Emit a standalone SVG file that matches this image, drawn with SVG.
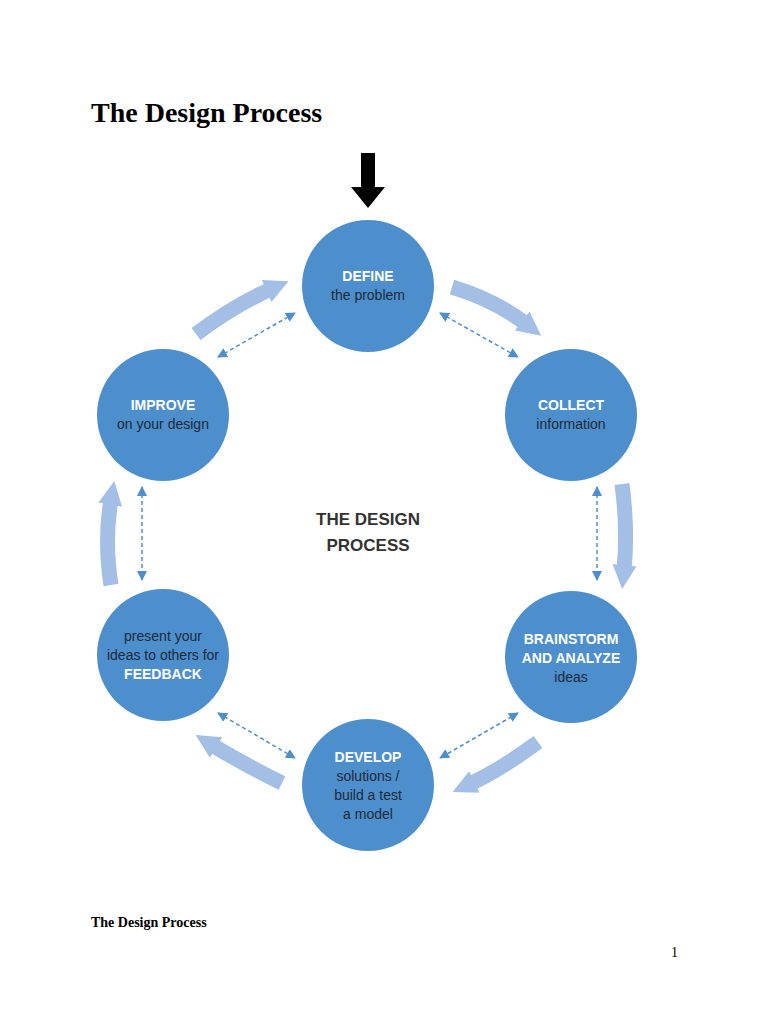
<svg xmlns="http://www.w3.org/2000/svg" width="768" height="1024" viewBox="0 0 768 1024">
<style>
.c{fill:#4d8fcc}
.h{font-family:"Liberation Sans",Arial,sans-serif;font-weight:bold;font-size:14px;fill:#fff;text-anchor:middle}
.s{font-family:"Liberation Sans",Arial,sans-serif;font-size:14px;fill:#1c2a3a;text-anchor:middle}
.big{fill:none;stroke:#a3bfe6;stroke-width:15;marker-end:url(#bh)}
.d{fill:none;stroke:#4d8fcc;stroke-width:1.5;stroke-dasharray:4 3;marker-start:url(#sh);marker-end:url(#sh)}
</style>
<defs>
<marker id="bh" markerUnits="userSpaceOnUse" viewBox="0 0 10 10" refX="2" refY="5" markerWidth="24" markerHeight="30" orient="auto"><path d="M0,0 L10,5 L0,10 z" fill="#a3bfe6"/></marker>
<marker id="sh" markerUnits="userSpaceOnUse" viewBox="0 0 10 10" refX="9" refY="5" markerWidth="10" markerHeight="10" orient="auto-start-reverse"><path d="M0,0 L10,5 L0,10 z" fill="#4d8fcc"/></marker>
</defs>
<rect width="768" height="1024" fill="#fff"/>
<text x="91" y="122" font-family="Liberation Serif,serif" font-weight="bold" font-size="28">The Design Process</text>
<text x="91" y="927" font-family="Liberation Serif,serif" font-weight="bold" font-size="14">The Design Process</text>
<text x="678" y="957" font-family="Liberation Serif,serif" font-size="14" text-anchor="end">1</text>
<g id="start-arrow"><polygon points="361,153 375,153 375,187 385,187 368,208 351,187 361,187" fill="#000"/></g>
<g id="connectors">
<path class="big" d="M452,287 Q495,300 526,324"/>
<path class="big" d="M622,484 Q628,530 624,570"/>
<path class="big" d="M538,742 Q500,770 470,784"/>
<path class="big" d="M282,783 Q245,765 212,745"/>
<path class="big" d="M111,585 Q104,540 111,500"/>
<path class="big" d="M196,334 Q235,305 271,289"/>
<path class="d" d="M218,357 L295,313"/>
<path class="d" d="M440,313 L518,357"/>
<path class="d" d="M597,487 L597,580"/>
<path class="d" d="M518,713 L440,758"/>
<path class="d" d="M218,713 L295,758"/>
<path class="d" d="M142,487 L142,580"/>
</g>
<g id="define"><circle class="c" cx="368" cy="286" r="66"/><text class="h" x="368" y="281">DEFINE</text><text class="s" x="368" y="300">the problem</text></g>
<g id="collect"><circle class="c" cx="571" cy="415" r="66"/><text class="h" x="571" y="410">COLLECT</text><text class="s" x="571" y="429">information</text></g>
<g id="brainstorm"><circle class="c" cx="571" cy="657" r="66"/><text class="h" x="571" y="644">BRAINSTORM</text><text class="h" x="571" y="663">AND ANALYZE</text><text class="s" x="571" y="682">ideas</text></g>
<g id="develop"><circle class="c" cx="368" cy="785" r="66"/><text class="h" x="368" y="762">DEVELOP</text><text class="s" x="368" y="781">solutions /</text><text class="s" x="368" y="800">build a test</text><text class="s" x="368" y="819">a model</text></g>
<g id="feedback"><circle class="c" cx="163" cy="655" r="66"/><text class="s" x="163" y="641">present your</text><text class="s" x="163" y="660">ideas to others for</text><text class="h" x="163" y="679">FEEDBACK</text></g>
<g id="improve"><circle class="c" cx="163" cy="415" r="66"/><text class="h" x="163" y="410">IMPROVE</text><text class="s" x="163" y="429">on your design</text></g>
<g id="center"><text x="368" y="525" font-family="Liberation Sans,Arial,sans-serif" font-weight="bold" font-size="17" fill="#333" text-anchor="middle">THE DESIGN</text><text x="368" y="551" font-family="Liberation Sans,Arial,sans-serif" font-weight="bold" font-size="17" fill="#333" text-anchor="middle">PROCESS</text></g>
</svg>
